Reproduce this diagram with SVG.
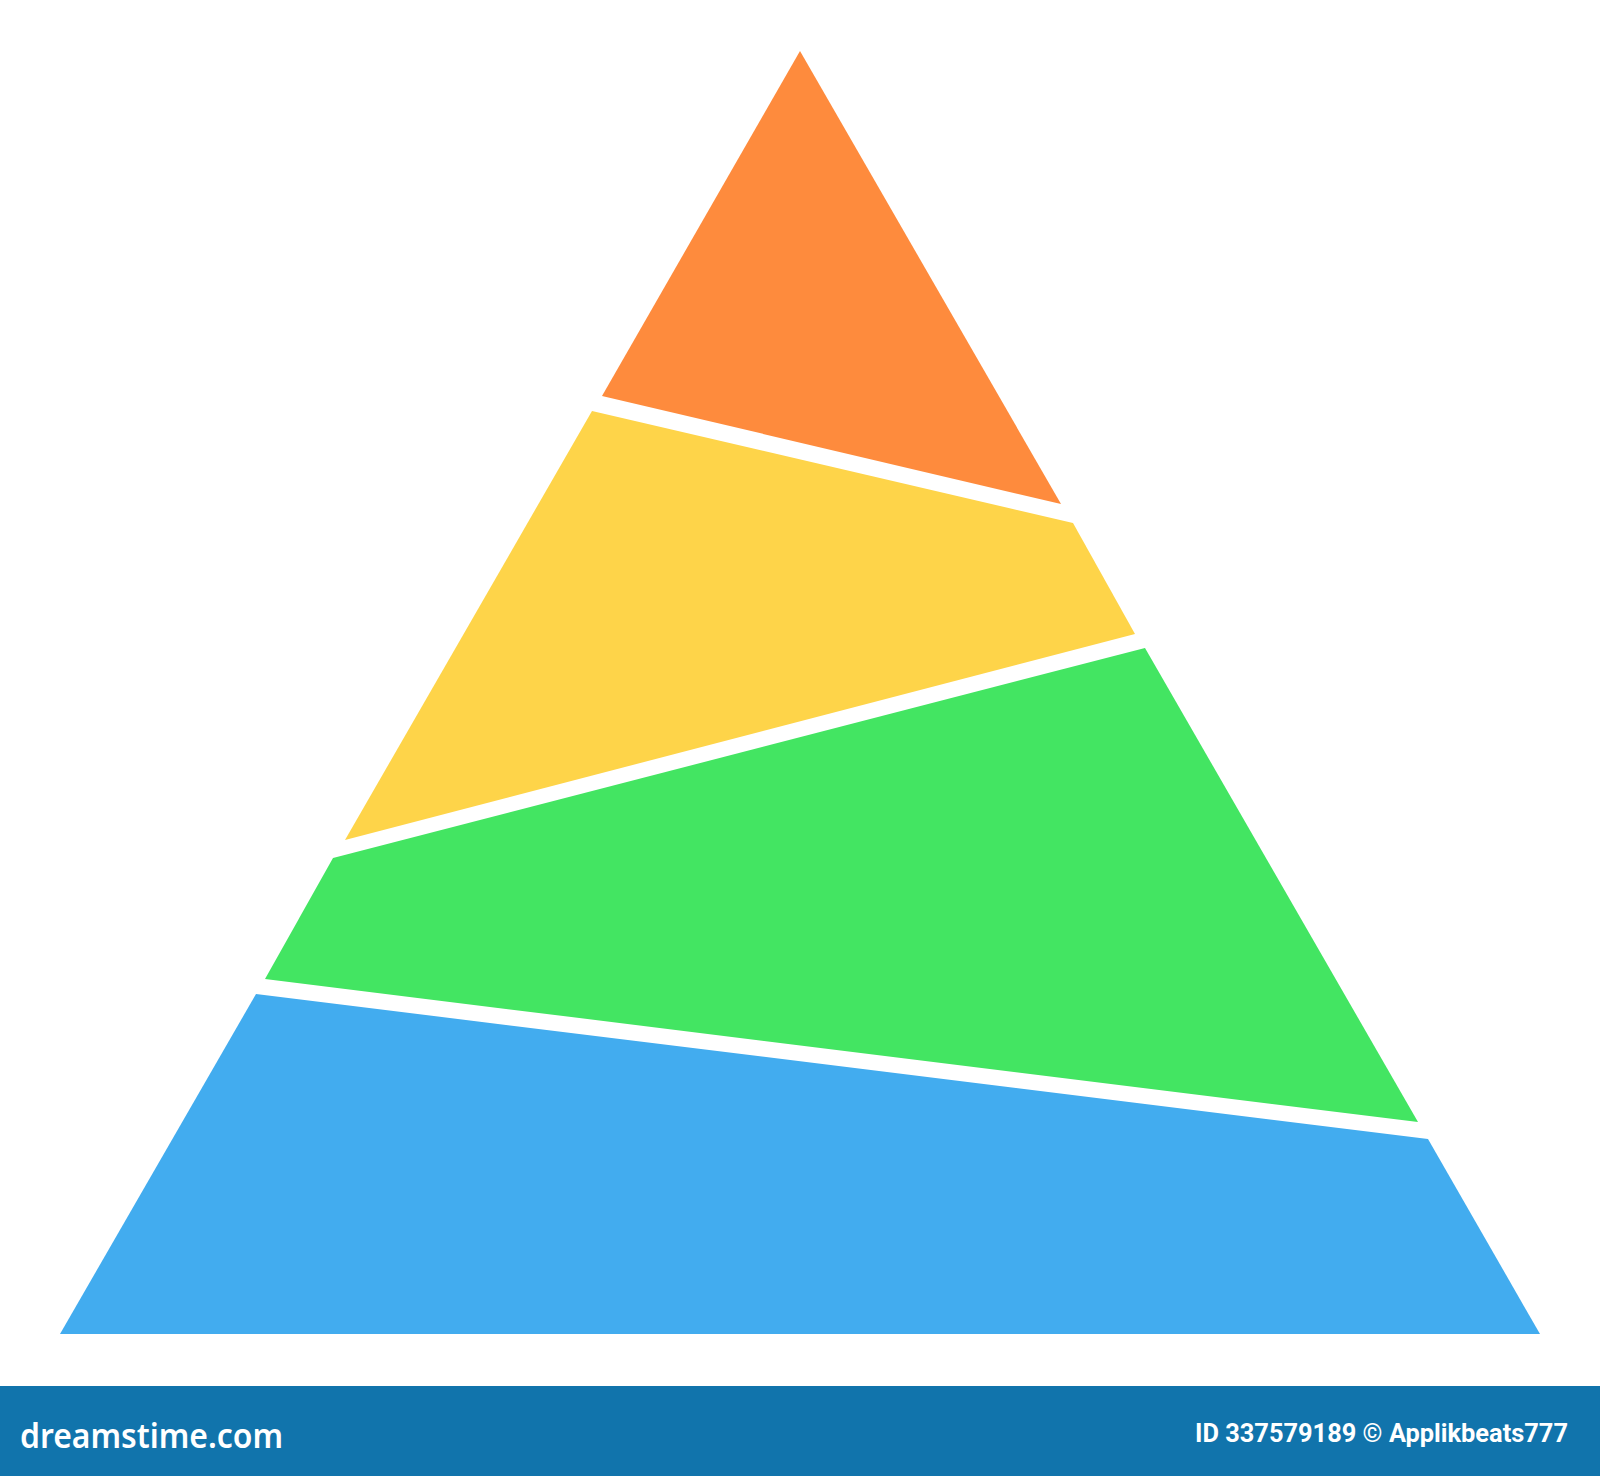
<svg xmlns="http://www.w3.org/2000/svg" width="1600" height="1476" viewBox="0 0 1600 1476">
  <style>
    .orange { fill: #FE8B3D; }
    .yellow { fill: #FED449; }
    .green { fill: #43E562; }
    .blue { fill: #42ACEF; }
    .bar { fill: #1174AC; }
    .foot { fill: #FFFFFF; }
  </style>
  <rect x="0" y="0" width="1600" height="1476" fill="#FFFFFF"/>
  <g id="layer-top">
    <polygon class="orange" points="800,51 602,396 1061,504"/>
  </g>
  <g id="layer-2">
    <polygon class="yellow" points="592,411 1073,523 1135,634 345,840"/>
  </g>
  <g id="layer-3">
    <polygon class="green" points="333,858 1145,648 1418,1122 265,979"/>
  </g>
  <g id="layer-base">
    <polygon class="blue" points="256,994 1428,1139 1540,1334 60,1334"/>
  </g>
  <g id="footer">
    <rect class="bar" x="0" y="1386" width="1600" height="90"/>
    <text class="foot" x="20" y="1448" font-family="'Noto Sans', 'Liberation Sans', sans-serif" font-weight="600" font-size="34" textLength="263" lengthAdjust="spacingAndGlyphs">dreamstime.com</text>
    <text class="foot" x="1195" y="1442" font-family="Roboto, 'Liberation Sans', sans-serif" font-weight="bold" font-size="25" textLength="373" lengthAdjust="spacingAndGlyphs">ID 337579189 © Applikbeats777</text>
  </g>
</svg>
